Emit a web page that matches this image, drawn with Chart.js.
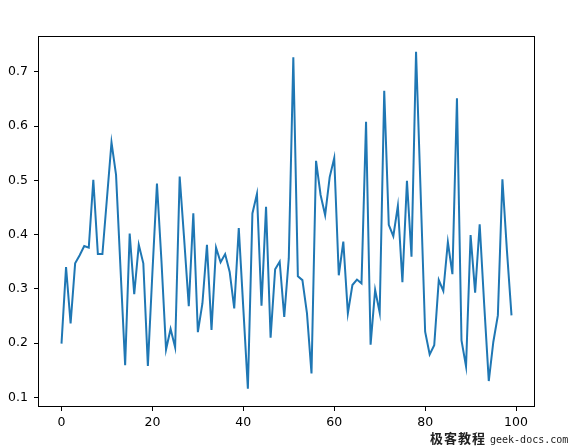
<!DOCTYPE html>
<html>
<head>
<meta charset="utf-8">
<script src="https://cdn.jsdelivr.net/npm/chart.js@4/dist/chart.umd.min.js"></script>
<style>
  html, body { margin: 0; padding: 0; background: #fff; }
  #wrap { position: relative; width: 571px; height: 447px; }
  #wm { position: absolute; left: 430px; top: 428px; white-space: nowrap; color: #222; }
  #wm .cn { font-family: "Noto Sans CJK SC"; font-weight: 700; font-size: 13px; letter-spacing: 1px; }
  #wm .en { font-family: "DejaVu Sans Mono"; font-size: 10px; }
</style>
</head>
<body>
<div id="wrap">
  <canvas id="c" width="571" height="447"></canvas>
  <div id="wm"><span class="cn">极客教程</span> <span class="en">geek-docs.com</span></div>
</div>
<script>
const values = [
  0.199, 0.340, 0.236, 0.347, 0.362, 0.379, 0.376, 0.501, 0.364, 0.364,
  0.467, 0.570, 0.510, 0.334, 0.159, 0.402, 0.290, 0.381, 0.347, 0.158,
  0.330, 0.494, 0.350, 0.188, 0.226, 0.192, 0.507, 0.390, 0.268, 0.439,
  0.220, 0.273, 0.381, 0.224, 0.376, 0.349, 0.364, 0.331, 0.264, 0.412,
  0.264, 0.116, 0.439, 0.475, 0.269, 0.451, 0.210, 0.336, 0.350, 0.248,
  0.356, 0.727, 0.323, 0.316, 0.255, 0.144, 0.536, 0.473, 0.436, 0.506,
  0.541, 0.325, 0.387, 0.255, 0.307, 0.317, 0.310, 0.608, 0.197, 0.298,
  0.256, 0.665, 0.418, 0.397, 0.453, 0.312, 0.499, 0.359, 0.737, 0.480,
  0.221, 0.179, 0.196, 0.316, 0.296, 0.386, 0.327, 0.651, 0.205, 0.157,
  0.399, 0.293, 0.419, 0.270, 0.130, 0.202, 0.251, 0.502, 0.370, 0.251
];
const xIndex = values.map((v, i) => i);
const xTicks = [0, 20, 40, 60, 80, 100];
const yTicks = [0.1, 0.2, 0.3, 0.4, 0.5, 0.6, 0.7];

const framePlugin = {
  id: 'frame',
  afterDraw(chart) {
    const a = chart.chartArea, ctx = chart.ctx;
    ctx.save();
    ctx.strokeStyle = '#000';
    ctx.lineWidth = 1;
    ctx.strokeRect(Math.round(a.left) - 0.5, Math.round(a.top) + 0.5,
                   Math.round(a.right - a.left) + 1, Math.round(a.bottom - a.top));
    ctx.restore();
  }
};

new Chart(document.getElementById('c'), {
  type: 'line',
  data: {
    datasets: [{
      data: xIndex.map((x, i) => ({ x: x, y: values[i] })),
      borderColor: '#1f77b4',
      borderWidth: 2,
      pointRadius: 0,
      tension: 0,
      fill: false
    }]
  },
  options: {
    responsive: false,
    animation: false,
    devicePixelRatio: 1,
    layout: { padding: { top: 36, right: 37, left: 0, bottom: 0 } },
    plugins: { legend: { display: false }, tooltip: { enabled: false } },
    scales: {
      x: {
        type: 'linear',
        min: -4.95, max: 103.95,
        afterBuildTicks: s => { s.ticks = xTicks.map(v => ({ value: v })); },
        afterFit: s => { s.height = 41; },
        grid: { display: true, drawOnChartArea: false, drawTicks: true, tickLength: 5, color: '#000', tickWidth: 1 },
        border: { display: false },
        ticks: { color: '#000', padding: 4, maxRotation: 0, font: { family: 'DejaVu Sans', size: 12.5 }, callback: v => String(v) }
      },
      y: {
        min: 0.084, max: 0.766,
        afterBuildTicks: s => { s.ticks = yTicks.map(v => ({ value: v })); },
        afterFit: s => { s.width = 39; },
        grid: { display: true, drawOnChartArea: false, drawTicks: true, tickLength: 5, color: '#000', tickWidth: 1 },
        border: { display: false },
        ticks: { color: '#000', padding: 6, font: { family: 'DejaVu Sans', size: 12.5 }, callback: v => v.toFixed(1) }
      }
    }
  },
  plugins: [framePlugin]
});
</script>
</body>
</html>
